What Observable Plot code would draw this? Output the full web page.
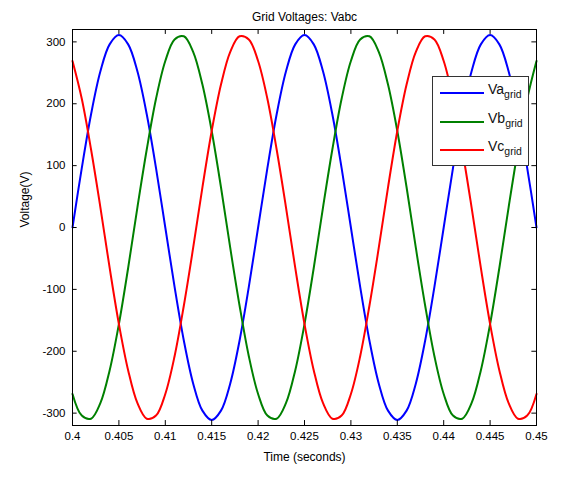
<!DOCTYPE html>
<html>
<head>
<meta charset="utf-8">
<script src="https://cdn.jsdelivr.net/npm/d3@7"></script>
<script src="https://cdn.jsdelivr.net/npm/@observablehq/plot@0.6"></script>
<style>
  html, body { margin: 0; padding: 0; background: #fff; }
  #wrap { position: relative; width: 572px; height: 479px; font-family: "Liberation Sans", Arial, sans-serif; }
  #legend {
    position: absolute; left: 432px; top: 76px; width: 95px; height: 88px;
    border: 1.5px solid #333; background: #fff; box-sizing: content-box;
  }
  .item { position: absolute; left: 0; height: 20px; width: 95px; }
  .item .ln { position: absolute; left: 7px; top: 9px; width: 44px; height: 0; border-top: 2.5px solid; }
  .item .lb { position: absolute; left: 55px; top: -2px; font-size: 14px; color: #111; white-space: nowrap; }
  .item .lb sub { font-size: 10.5px; vertical-align: -4px; }
</style>
</head>
<body>
<div id="wrap"></div>
<script>
// ---- data ----
const time = [
  0.400,0.401,0.402,0.403,0.404,0.405,0.406,0.407,0.408,0.409,
  0.410,0.411,0.412,0.413,0.414,0.415,0.416,0.417,0.418,0.419,
  0.420,0.421,0.422,0.423,0.424,0.425,0.426,0.427,0.428,0.429,
  0.430,0.431,0.432,0.433,0.434,0.435,0.436,0.437,0.438,0.439,
  0.440,0.441,0.442,0.443,0.444,0.445,0.446,0.447,0.448,0.449,
  0.450
];
const vaGrid = [
  0,96,183,252,296,311,296,252,183,96,0,-96,-183,-252,-296,-311,-296,-252,-183,-96,
  0,96,183,252,296,311,296,252,183,96,0,-96,-183,-252,-296,-311,-296,-252,-183,-96,
  0,96,183,252,296,311,296,252,183,96,0
];
const vbGrid = [
  -269,-304,-309,-284,-231,-156,-65,33,126,208,269,304,309,284,231,156,65,-33,-126,-208,
  -269,-304,-309,-284,-231,-156,-65,33,126,208,269,304,309,284,231,156,65,-33,-126,-208,
  -269,-304,-309,-284,-231,-156,-65,33,126,208,269
];
const vcGrid = [
  269,208,126,33,-65,-156,-231,-284,-309,-304,-269,-208,-126,-33,65,156,231,284,309,304,
  269,208,126,33,-65,-156,-231,-284,-309,-304,-269,-208,-126,-33,65,156,231,284,309,304,
  269,208,126,33,-65,-156,-231,-284,-309,-304,-269
];
const seriesNames = ["Va", "Vb", "Vc"];
const seriesColors = ["#0000ff", "#008000", "#ff0000"];
const xTicks = [0.4,0.405,0.41,0.415,0.42,0.425,0.43,0.435,0.44,0.445,0.45];
const xTickLabels = ["0.4","0.405","0.41","0.415","0.42","0.425","0.43","0.435","0.44","0.445","0.45"];
const yTicks = [-300,-200,-100,0,100,200,300];
const yTickLabels = ["-300","-200","-100","0","100","200","300"];
const title = "Grid Voltages: Vabc";
const xLabel = "Time (seconds)";
const yLabel = "Voltage(V)";

// ---- build table ----
const values = [vaGrid, vbGrid, vcGrid];
const rows = [];
seriesNames.forEach((s, si) => {
  time.forEach((t, i) => rows.push({series: s, t, v: values[si][i]}));
});

const xDom = [0.4, 0.45], yDom = [-320, 320];
const xTickLen = 0.0005, yTickLen = 8;

const plot = Plot.plot({
  width: 572, height: 479,
  marginLeft: 72, marginRight: 36, marginTop: 29, marginBottom: 54,
  style: {fontFamily: "Liberation Sans, Arial, sans-serif", fontSize: "11.5px", color: "#000", background: "#fff"},
  x: {domain: xDom},
  y: {domain: yDom},
  color: {domain: seriesNames, range: seriesColors},
  marks: [
    Plot.line(rows, {x: "t", y: "v", z: "series", stroke: "series", strokeWidth: 2, curve: "catmull-rom"}),
    Plot.frame({stroke: "#000", strokeWidth: 1}),
    // inward ticks on all four sides
    Plot.ruleX(xTicks, {x: d => d, y1: yDom[0], y2: yDom[0] + yTickLen, stroke: "#000"}),
    Plot.ruleX(xTicks, {x: d => d, y1: yDom[1], y2: yDom[1] - yTickLen, stroke: "#000"}),
    Plot.ruleY(yTicks, {y: d => d, x1: xDom[0], x2: xDom[0] + xTickLen, stroke: "#000"}),
    Plot.ruleY(yTicks, {y: d => d, x1: xDom[1], x2: xDom[1] - xTickLen, stroke: "#000"}),
    Plot.axisX({ticks: xTicks, tickSize: 0, tickPadding: 6, tickFormat: (d, i) => xTickLabels[i], label: null}),
    Plot.axisY({ticks: yTicks, tickSize: 0, tickPadding: 7, tickFormat: (d, i) => yTickLabels[i], label: null}),
    Plot.text([title], {frameAnchor: "top", dy: -17, fontSize: 12}),
    Plot.text([xLabel], {frameAnchor: "bottom", dy: 35, fontSize: 12}),
    Plot.text([yLabel], {frameAnchor: "left", dx: -47, rotate: -90, fontSize: 12})
  ]
});
const wrap = document.getElementById("wrap");
wrap.appendChild(plot);

// ---- legend ----
const legend = document.createElement("div");
legend.id = "legend";
seriesNames.forEach((s, i) => {
  const item = document.createElement("div");
  item.className = "item";
  item.style.top = (6 + i * 28.5) + "px";
  item.innerHTML = `<span class="ln" style="border-color:${seriesColors[i]}"></span><span class="lb">${s}<sub>grid</sub></span>`;
  legend.appendChild(item);
});
wrap.appendChild(legend);
</script>
</body>
</html>
